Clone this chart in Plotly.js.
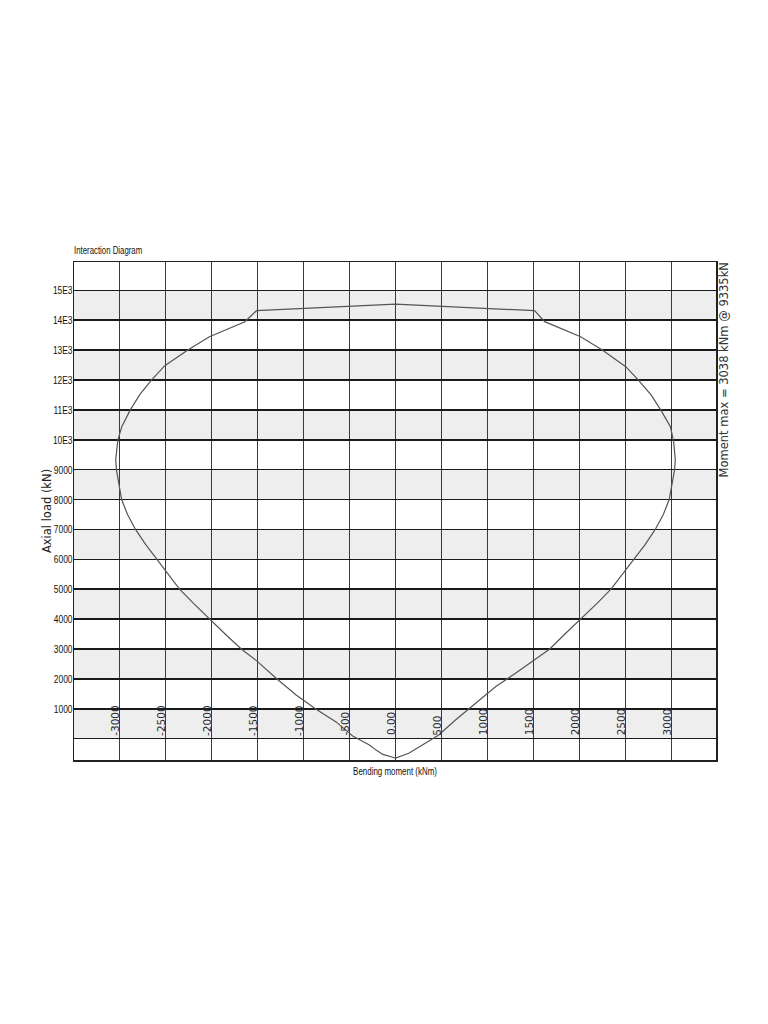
<!DOCTYPE html>
<html>
<head>
<meta charset="utf-8">
<script src="https://cdn.plot.ly/plotly-3.0.1.min.js"></script>
<style>
  html, body { margin: 0; padding: 0; background: #ffffff; }
  #chart { width: 768px; height: 1024px; }
</style>
</head>
<body>
<div id="chart"></div>
<script>
// Interaction curve: bending moment (kNm) vs axial load (kN), closed loop
const momentLeft = [0, -500, -1000, -1510, -1635, -2020, -2255, -2505, -2650, -2775, -2880, -2972, -3015, -3038, -3030, -3005, -2974, -2910, -2823, -2714, -2592, -2470, -2345, -2185, -2020, -1850, -1675, -1510, -1296, -1079, -862, -645, -465, -283, -210, -138, -30, 0];
const axialLeft  = [14540, 14470, 14390, 14320, 13950, 13450, 13005, 12480, 12000, 11520, 11000, 10440, 9990, 9335, 8990, 8500, 8000, 7500, 7000, 6500, 6000, 5500, 5000, 4500, 4000, 3500, 3000, 2610, 2020, 1460, 980, 560, 90, -214, -385, -530, -625, -650];
const momentRight = [144, 290, 470, 651, 869, 1086, 1303, 1484, 1675, 1840, 2015, 2180, 2340, 2465, 2590, 2712, 2820, 2908, 2972, 3005, 3030, 3038, 3020, 2985, 2880, 2775, 2630, 2500, 2245, 2010, 1620, 1510, 1000, 500, 0];
const axialRight  = [-492, -214, 120, 622, 1181, 1737, 2185, 2574, 3000, 3500, 4000, 4500, 5000, 5500, 6000, 6500, 7000, 7500, 8000, 8500, 8990, 9335, 9950, 10440, 11000, 11500, 12025, 12447, 13005, 13450, 13953, 14320, 14390, 14470, 14540];

const xTickVals = [-3000, -2500, -2000, -1500, -1000, -500, 0, 500, 1000, 1500, 2000, 2500, 3000, 3500];
const xTickText = ['-3000', '-2500', '-2000', '-1500', '-1000', '-500', '0.00', '500', '1000', '1500', '2000', '2500', '3000', '3500'];
const yTickVals = [0, 1000, 2000, 3000, 4000, 5000, 6000, 7000, 8000, 9000, 10000, 11000, 12000, 13000, 14000, 15000];
const yTickText = ['', '1000', '2000', '3000', '4000', '5000', '6000', '7000', '8000', '9000', '10E3', '11E3', '12E3', '13E3', '14E3', '15E3'];
const bandStarts = [0, 2000, 4000, 6000, 8000, 10000, 12000, 14000];
const bandSize = 1000;
const xLabelBase = 0; // x tick labels sit on the zero-load gridline

const titleText = 'Interaction Diagram';
const xTitle = 'Bending moment (kNm)';
const yTitle = 'Axial load (kN)';
const noteText = 'Moment max = 3038 kNm @ 9335kN';

const narrowBase = '"Liberation Sans", Arial, sans-serif';
const wide = '"DejaVu Sans", Verdana, sans-serif';

const trace = {
  x: momentLeft.concat(momentRight),
  y: axialLeft.concat(axialRight),
  type: 'scatter',
  mode: 'lines',
  line: { color: '#555555', width: 1.2 },
  hoverinfo: 'skip',
  showlegend: false
};

const shapes = bandStarts.map(b => ({
  type: 'rect', xref: 'paper', yref: 'y',
  x0: 0, x1: 1, y0: b, y1: b + bandSize,
  fillcolor: '#eeeeee', line: { width: 0 }, layer: 'below'
}));

const tickAnnotations = xTickVals.map((v, i) => ({
  text: xTickText[i],
  xref: 'x', yref: 'y',
  x: v, y: xLabelBase,
  xanchor: 'center', yanchor: 'bottom',
  xshift: -4.5, yshift: 2,
  textangle: -90, showarrow: false,
  borderpad: 0,
  font: { family: wide, size: 10.5, color: '#2a2a2a' }
}));

const layout = {
  width: 768, height: 1024,
  margin: { l: 74, r: 52, t: 262, b: 264, pad: 0 },
  paper_bgcolor: '#ffffff',
  plot_bgcolor: '#ffffff',
  showlegend: false,
  title: {
    text: titleText,
    font: { family: narrowBase, size: 11.5, color: '#111111' },
    xref: 'paper', x: 0, xanchor: 'left',
    yref: 'container', y: 1 - 250 / 1024, yanchor: 'middle'
  },
  xaxis: {
    range: [-3491, 3480],
    tickmode: 'array', tickvals: xTickVals, ticktext: xTickText,
    showticklabels: false,
    ticks: '',
    showgrid: true, gridcolor: '#3a3a3a', gridwidth: 1.3,
    zeroline: false,
    showline: true, mirror: true, linecolor: '#222222', linewidth: 1.5,
    automargin: false,
    title: { text: xTitle, font: { family: narrowBase, size: 11.5, color: '#111111' }, standoff: 6 }
  },
  yaxis: {
    range: [-716, 15950],
    tickmode: 'array', tickvals: yTickVals, ticktext: yTickText,
    ticks: '',
    tickfont: { family: narrowBase, size: 11.5, color: '#111111' },
    showgrid: true, gridcolor: '#1a1a1a', gridwidth: 1.6,
    zeroline: false,
    showline: true, mirror: true, linecolor: '#222222', linewidth: 1.5,
    automargin: false,
    title: { text: yTitle, font: { family: wide, size: 11.5, color: '#222222' }, standoff: 2 }
  },
  shapes: shapes,
  annotations: tickAnnotations.concat([{
    text: noteText,
    xref: 'paper', yref: 'paper',
    x: 1, y: 1, xanchor: 'left', yanchor: 'top',
    xshift: -1,
    textangle: -90, showarrow: false,
    borderpad: 0,
    font: { family: wide, size: 11.5, color: '#333333' }
  }])
};

function condense(el, factor) {
  if (!el) return;
  const w = el.getComputedTextLength();
  if (w > 0) {
    el.setAttribute('textLength', (w * factor).toFixed(2));
    el.setAttribute('lengthAdjust', 'spacingAndGlyphs');
  }
}

function moveBy(el, dx) {
  if (!el) return;
  const tr = el.getAttribute('transform') || '';
  el.setAttribute('transform', 'translate(' + dx.toFixed(1) + ',0) ' + tr);
}

Plotly.newPlot('chart', [trace], layout, { displayModeBar: false, staticPlot: true }).then(gd => {
  condense(gd.querySelector('.gtitle'), 0.68);
  condense(gd.querySelector('.g-xtitle text'), 0.69);
  gd.querySelectorAll('.ytick text').forEach(t => {
    condense(t, 0.73);
    const b = t.getBoundingClientRect();
    if (b.width > 0) moveBy(t, 72.5 - b.right);
  });
  // place the y title just left of the condensed tick labels
  const yt = gd.querySelector('.g-ytitle text');
  if (yt) {
    const box = yt.getBoundingClientRect();
    moveBy(yt, 47 - (box.left + box.width / 2));
  }
});
</script>
</body>
</html>
